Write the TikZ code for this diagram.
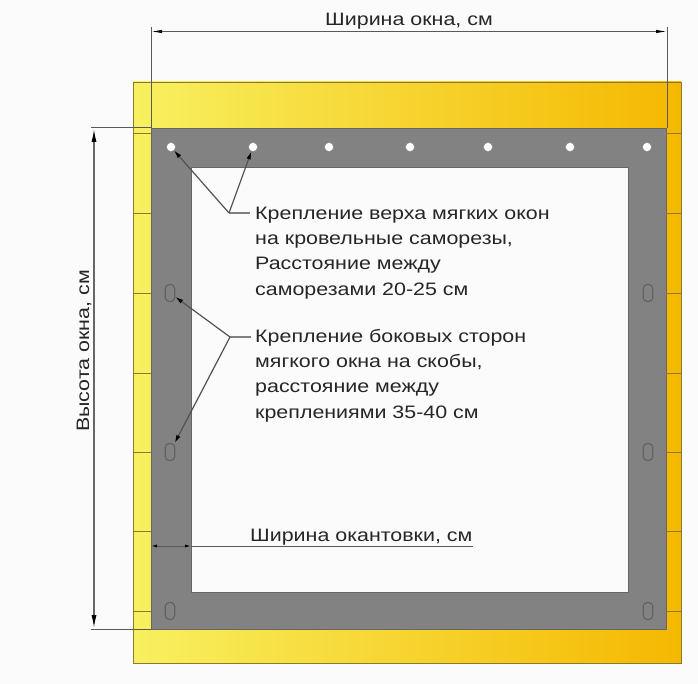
\documentclass[tikz,border=0pt]{standalone}
\usepackage{fontspec}
\setmainfont[FakeStretch=1.19]{Liberation Sans}
\usetikzlibrary{positioning}
\usetikzlibrary{arrows.meta}
\definecolor{pagecolor}{HTML}{FBFBFB}
\definecolor{bandcolor}{HTML}{828282}
\definecolor{edgecolor}{HTML}{8A7A30}
\definecolor{stripleft}{HTML}{F8F060}
\definecolor{stripmid}{HTML}{FBE238}
\definecolor{stripright}{HTML}{F5B800}
\tikzstyle{sheet}=[rectangle,inner sep=0pt,outer sep=0pt]
\tikzstyle{hole}=[circle,fill=white,draw=black!45,minimum size=9pt,inner sep=0pt]
\tikzstyle{slot}=[rectangle,rounded corners=4pt,draw=black!62,line width=1.1pt,minimum width=9.5pt,minimum height=17pt,inner sep=0pt]
\tikzstyle{dimline} = [draw,line width=1pt,black!65]
\tikzstyle{widtharrow} = [draw,line width=1pt,black!65,{Latex[length=11pt,width=3.5pt,black]}-{Latex[length=11pt,width=3.5pt,black]}]
\tikzstyle{heightarrow} = [draw,line width=1.2pt,black!60,{Latex[length=13pt,width=5pt,black]}-{Latex[length=13pt,width=5pt,black]}]
\tikzstyle{leader} = [draw,line width=1.2pt,black!68,-{Latex[length=8pt,width=4.5pt,black]}]
\tikzstyle{stub} = [draw,line width=1.2pt,black!50]
\tikzstyle{tick} = [draw,line width=0.9pt,edgecolor]
\tikzstyle{label} = [font=\fontsize{18}{25.2}\selectfont,text=black!85,inner sep=0pt]
\begin{document}
\begin{tikzpicture}[x=1pt,y=-1pt]
   \useasboundingbox[fill=pagecolor] (0,0) rectangle (698,684);

   % yellow backing, grey band, white opening
   \node[sheet,draw=edgecolor,line width=0.9pt,left color=stripleft,middle color=stripmid,right color=stripright,minimum width=548pt,minimum height=581pt] (backing) at (407,372.5) {};
   \node[sheet,fill=bandcolor,draw=black!60,line width=0.9pt,minimum width=515pt,minimum height=501pt] (band) at (408.5,378.5) {};
   \node[sheet,fill=pagecolor,draw=black!60,line width=0.9pt,minimum width=437pt,minimum height=425pt] (opening) at (409.5,379.5) {};

   % ticks on the yellow strips
   \foreach \y in {133,213,293,373,452,531,611} {
      \path[tick] (133,\y) -- (151,\y);
      \path[tick] (666,\y) -- (681,\y);
   }

   \foreach \pos/\name in {{(171,147)/hole1}, {(253,147)/hole2}, {(329,147)/hole3}, {(410,147)/hole4}, {(488,147)/hole5}, {(570,147)/hole6}, {(647,147)/hole7}}
      \node[hole] (\name) at \pos {};

   \foreach \pos/\name in {{(170,293)/slot1}, {(170,452)/slot2}, {(170,611)/slot3}, {(648,293)/slot4}, {(648,452)/slot5}, {(648,611)/slot6}}
      \node[slot] (\name) at \pos {};

   % dimension lines
   \coordinate (wl) at (151,31.5);
   \coordinate (wr) at (667,31.5);
   \coordinate (wltop) at (151,27);
   \coordinate (wrtop) at (667,27);
   \coordinate (wlbot) at (151,128);
   \coordinate (wrbot) at (667,128);
   \coordinate (ht) at (94,129);
   \coordinate (hb) at (94,628);
   \coordinate (htout) at (91,128);
   \coordinate (hbout) at (91,629);
   \coordinate (hbin) at (151,629);
   \path[widtharrow] (wl) -- (wr);
   \path[dimline] (wltop) -- (wlbot);
   \path[dimline] (wrtop) -- (wrbot);
   \path[heightarrow] (ht) -- (hb);
   \path[dimline] (htout) -- (wlbot);
   \path[dimline] (hbout) -- (hbin);

   \node[label,anchor=base] (widthlabel) at (409,25.5) {Ширина окна, см};
   \node[label,anchor=base,rotate=90] (heightlabel) at (89,351) {Высота окна, см};

   % border width
   \coordinate (bl) at (151,546);
   \coordinate (br) at (191,546);
   \coordinate (bend) at (473,546);
   \path[draw,line width=1pt,black!65,{Latex[length=6pt,width=3pt,black]}-{Latex[length=6pt,width=3pt,black]}] (bl) -- (br);
   \path[dimline] (br) -- (bend);
   \node[label,anchor=base west] (borderlabel) at (250,541.5) {Ширина окантовки, см};

   % notes with leaders
   \node[label,anchor=base west,align=left] (topnote) at (255,295) {Крепление верха мягких окон\\на кровельные саморезы,\\Расстояние между\\саморезами 20-25 см};
   \node[label,anchor=base west,align=left] (sidenote) at (255,418) {Крепление боковых сторон\\мягкого окна на скобы,\\расстояние между\\креплениями 35-40 см};

   \coordinate (topjoin) at (229,213);
   \coordinate (sidejoin) at (230,337);
   \coordinate (topstub) at (250,213);
   \coordinate (sidestub) at (251,337);
   \path[stub] (topstub) -- (topjoin);
   \path[stub] (sidestub) -- (sidejoin);
   \path[leader] (topjoin) -- (hole1);
   \path[leader] (topjoin) -- (hole2);
   \path[leader] (sidejoin) -- (slot1);
   \path[leader] (sidejoin) -- (slot2);
\end{tikzpicture}
\end{document}
